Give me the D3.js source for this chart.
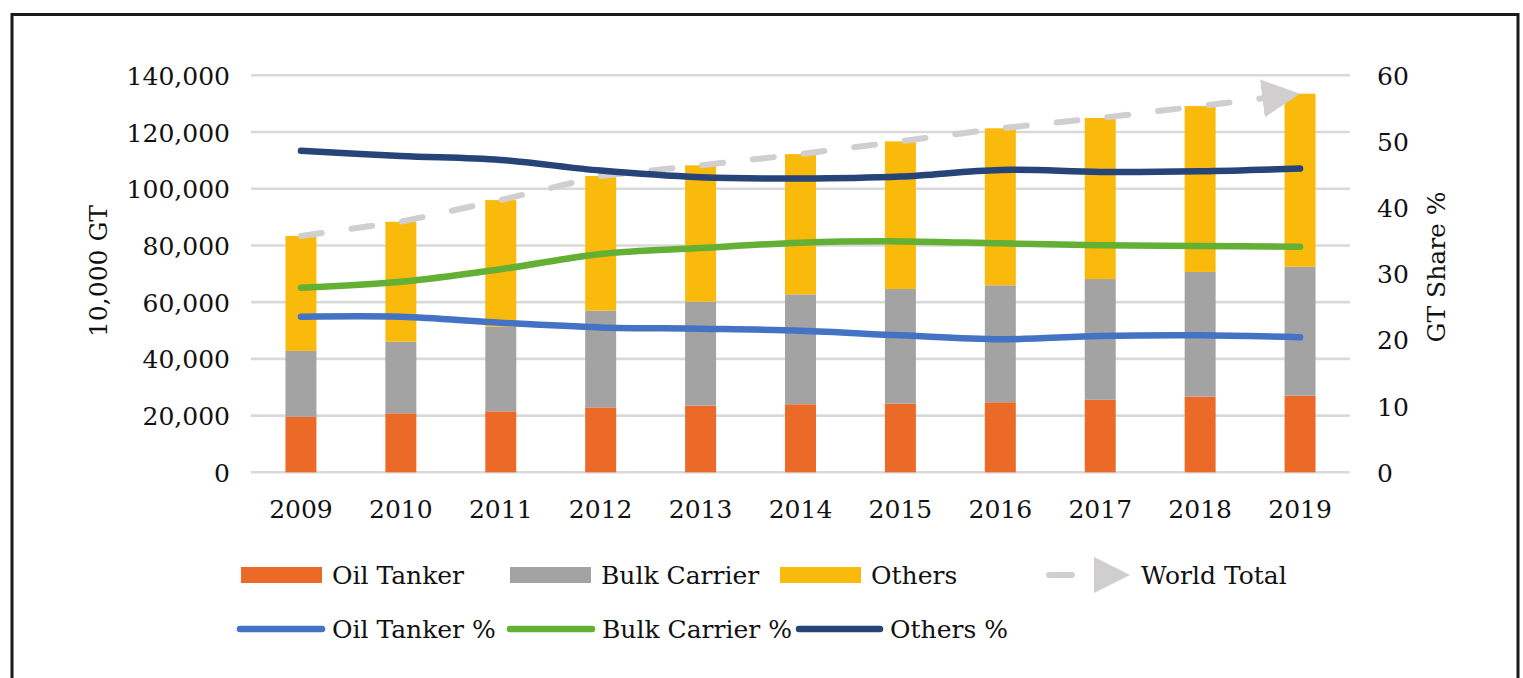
<!doctype html>
<html>
<head>
<meta charset="utf-8">
<script src="https://cdnjs.cloudflare.com/ajax/libs/d3/7.8.5/d3.min.js"></script>
<style>
  body { margin: 0; background: #fff; }
  svg text { font-family: "DejaVu Serif", serif; font-size: 25px; fill: #111; }
</style>
</head>
<body>
<svg id="chart" width="1523" height="678"></svg>
<script>
// values
var years = ["2009","2010","2011","2012","2013","2014","2015","2016","2017","2018","2019"];
var oilTanker   = [19600, 20800, 21500, 22900, 23500, 24000, 24200, 24700, 25600, 26700, 27000];
var bulkCarrier = [23200, 25250, 29850, 34100, 36650, 38750, 40450, 41250, 42550, 43950, 45500];
var others      = [40550, 42300, 44650, 47500, 48100, 49450, 52050, 55350, 56800, 58500, 61000];
var worldTotal  = [83350, 88350, 96000, 104500, 108250, 112200, 116700, 121300, 124950, 129150, 133500];
var oilPct   = [23.5, 23.5, 22.6, 21.9, 21.7, 21.4, 20.7, 20.1, 20.6, 20.7, 20.4];
var bulkPct  = [27.9, 28.8, 30.7, 33.0, 33.9, 34.7, 34.9, 34.6, 34.3, 34.2, 34.1];
var othersPct= [48.6, 47.8, 47.2, 45.6, 44.6, 44.4, 44.7, 45.7, 45.4, 45.5, 45.9];
var leftTicks  = [0, 20000, 40000, 60000, 80000, 100000, 120000, 140000];
var rightTicks = [0, 10, 20, 30, 40, 50, 60];

var cOil = "#EC6A27", cBulk = "#A3A3A3", cOth = "#F9BA0C";
var cOilP = "#4472C4", cBulkP = "#63B034", cOthP = "#264478", cWorld = "#D0CECE";

var svg = d3.select("#chart");

// frame
svg.append("rect").attr("x", 12).attr("y", 14.5).attr("width", 1506).attr("height", 720)
  .attr("fill", "none").attr("stroke", "#1a1a1a").attr("stroke-width", 3);

var x = d3.scaleBand().domain(years).range([251, 1350]).paddingInner(0.69).paddingOuter(0.345);
var y = d3.scaleLinear().domain([0, 140000]).range([472.3, 75.3]);
var y2 = d3.scaleLinear().domain([0, 60]).range([472.3, 75.3]);
var cx = function(d, i) { return x(years[i]) + x.bandwidth() / 2; };

// gridlines
svg.append("g").selectAll("line").data(leftTicks).enter().append("line")
  .attr("x1", 251).attr("x2", 1350)
  .attr("y1", d => y(d)).attr("y2", d => y(d))
  .attr("stroke", "#D9D9D9").attr("stroke-width", 2.6);

// left axis
var yAxis = d3.axisLeft(y).tickValues(leftTicks).tickFormat(d3.format(",")).tickSize(0).tickPadding(0);
var gl = svg.append("g").attr("transform", "translate(230,0)").call(yAxis);
gl.select(".domain").remove();
gl.selectAll("text").attr("font-size", null).attr("font-family", null).attr("dy", "0.36em");

// right axis
var y2Axis = d3.axisRight(y2).tickValues(rightTicks).tickSize(0).tickPadding(0);
var gr = svg.append("g").attr("transform", "translate(1377,0)").call(y2Axis);
gr.select(".domain").remove();
gr.selectAll("text").attr("font-size", null).attr("font-family", null).attr("dy", "0.36em");

// x axis
var xAxis = d3.axisBottom(x).tickSize(0).tickPadding(0);
var gx = svg.append("g").attr("transform", "translate(0,499)").call(xAxis);
gx.select(".domain").remove();
gx.selectAll("text").attr("font-size", null).attr("font-family", null).attr("dy", "0.74em");

// axis titles
svg.append("text").attr("transform", "translate(98,271) rotate(-90)")
  .attr("text-anchor", "middle").attr("dy", "0.36em").text("10,000 GT");
svg.append("text").attr("transform", "translate(1436,267) rotate(-90)")
  .attr("text-anchor", "middle").attr("dy", "0.36em").text("GT Share %");

// stacked bars
var rows = years.map((yr, i) => ({ year: yr, oil: oilTanker[i], bulk: bulkCarrier[i], oth: others[i] }));
var stack = d3.stack().keys(["oil", "bulk", "oth"])(rows);
var colors = { oil: cOil, bulk: cBulk, oth: cOth };
svg.append("g").selectAll("g").data(stack).enter().append("g")
  .attr("fill", d => colors[d.key])
  .selectAll("rect").data(d => d).enter().append("rect")
  .attr("x", d => x(d.data.year)).attr("width", x.bandwidth())
  .attr("y", d => y(d[1])).attr("height", d => y(d[0]) - y(d[1]));

// world total dashed arrow
var marker = svg.append("defs").append("marker").attr("id", "arrow")
  .attr("markerUnits", "userSpaceOnUse").attr("markerWidth", 40).attr("markerHeight", 40)
  .attr("viewBox", "-36 -19 38 38").attr("refX", 0).attr("refY", 0).attr("orient", "auto");
marker.append("path").attr("d", "M-36,-18L0,0L-36,18Z").attr("fill", cWorld);

var worldLine = d3.line().x(cx).y(d => y(d));
svg.append("path").datum(worldTotal).attr("d", worldLine)
  .attr("fill", "none").attr("stroke", cWorld).attr("stroke-width", 6)
  .attr("stroke-linecap", "round").attr("stroke-dasharray", "21 30")
  .attr("marker-end", "url(#arrow)");

// share lines
var shareLine = d3.line().x(cx).y(d => y2(d)).curve(d3.curveCatmullRom.alpha(0.5));
[[othersPct, cOthP], [bulkPct, cBulkP], [oilPct, cOilP]].forEach(function(s) {
  svg.append("path").datum(s[0]).attr("d", shareLine)
    .attr("fill", "none").attr("stroke", s[1]).attr("stroke-width", 6.5)
    .attr("stroke-linecap", "round");
});

// legend
var lg = svg.append("g");
var boxes = [["Oil Tanker", cOil, 241], ["Bulk Carrier", cBulk, 510], ["Others", cOth, 780]];
boxes.forEach(function(b) {
  lg.append("rect").attr("x", b[2]).attr("y", 567).attr("width", 81).attr("height", 16).attr("fill", b[1]);
  lg.append("text").attr("x", b[2] + 91).attr("y", 575).attr("dy", "0.36em").text(b[0]);
});
lg.append("line").attr("x1", 1049).attr("x2", 1072).attr("y1", 575).attr("y2", 575)
  .attr("stroke", cWorld).attr("stroke-width", 6).attr("stroke-linecap", "round");
lg.append("path").attr("d", "M1094,557L1130,575L1094,593Z").attr("fill", cWorld);
lg.append("text").attr("x", 1141).attr("y", 575).attr("dy", "0.36em").text("World Total");

var lines = [["Oil Tanker %", cOilP, 240, 322], ["Bulk Carrier %", cBulkP, 510, 592], ["Others %", cOthP, 799, 880]];
lines.forEach(function(l) {
  lg.append("line").attr("x1", l[2]).attr("x2", l[3]).attr("y1", 629).attr("y2", 629)
    .attr("stroke", l[1]).attr("stroke-width", 6.5).attr("stroke-linecap", "round");
  lg.append("text").attr("x", l[3] + 10).attr("y", 629).attr("dy", "0.36em").text(l[0]);
});
</script>
</body>
</html>
